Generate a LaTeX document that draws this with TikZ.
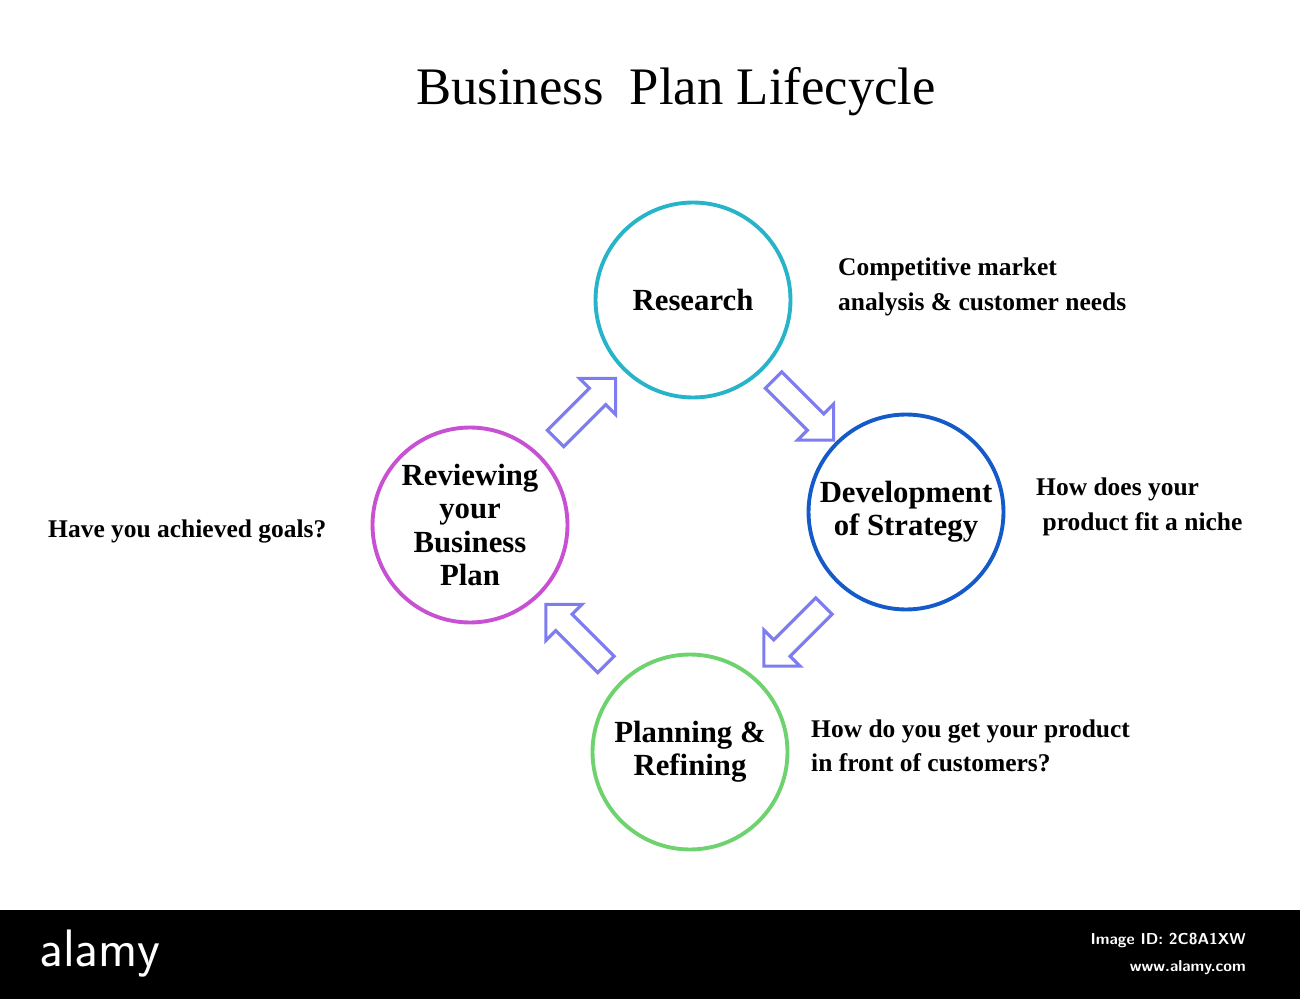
\documentclass[tikz,border=0pt]{standalone}
\usepackage{fontspec}
\setmainfont{Liberation Serif}
\usetikzlibrary{shapes.arrows,calc}
\tikzset{
  stage/.style={circle,draw=#1,line width=2.2pt,minimum size=3.9cm,align=center,inner sep=0pt,
    font=\fontsize{17.5}{19}\selectfont\bfseries},
  note/.style={anchor=west,align=left,font=\fontsize{14.5}{19.5}\selectfont\bfseries},
  flow/.style={single arrow,draw=arr,line width=1.8pt,fill=white,minimum height=1.7cm,
    inner sep=0.2cm,single arrow head extend=0.28cm}
}
\definecolor{res}{RGB}{40,180,200}
\definecolor{dev}{RGB}{20,90,200}
\definecolor{pla}{RGB}{110,210,110}
\definecolor{rev}{RGB}{200,80,210}
\definecolor{arr}{RGB}{125,125,240}
\begin{document}
\begin{tikzpicture}[x=0.02cm,y=-0.02cm]
\useasboundingbox (0,0) rectangle (1300,999);
\node (title) at (676,92) {\fontsize{30}{32}\selectfont Business\ \ Plan Lifecycle};
\node[stage=res] (research) at (693,300) {Research};
\node[stage=dev] (develop) at (906,512) {Development\\of Strategy};
\node[stage=pla] (planning) at (690,752) {Planning \&\\Refining};
\node[stage=rev] (review) at (470,525) {Reviewing\\your\\Business\\Plan};
\node[note] (n1) at (832,287) {Competitive market\\analysis \& customer needs};
\node[note] (n2) at (1030,507) {How does your\\\ product fit a niche};
\node[note] (n3) at (805,746) {How do you get your product\\in front of customers?};
\node[note] (n4) at (42,531) {Have you achieved goals?};
\node[flow,rotate=45] (a1) at ($(review)!0.5!(research)$) {};
\node[flow,rotate=-45] (a2) at ($(research)!0.5!(develop)$) {};
\node[flow,rotate=-135] (a3) at ($(develop)!0.5!(planning)$) {};
\node[flow,rotate=135] (a4) at ($(planning)!0.5!(review)$) {};
% watermark band
\fill[black] (0,910) rectangle (1300,999);
\node[white,font=\sffamily\fontsize{30}{30}\selectfont] (brand) at (100,954) {alamy};
\node[white,anchor=east,align=right,font=\sffamily\bfseries\fontsize{9}{15}\selectfont] (id) at (1252,954) {Image ID: 2C8A1XW\\www.alamy.com};
\end{tikzpicture}
\end{document}
